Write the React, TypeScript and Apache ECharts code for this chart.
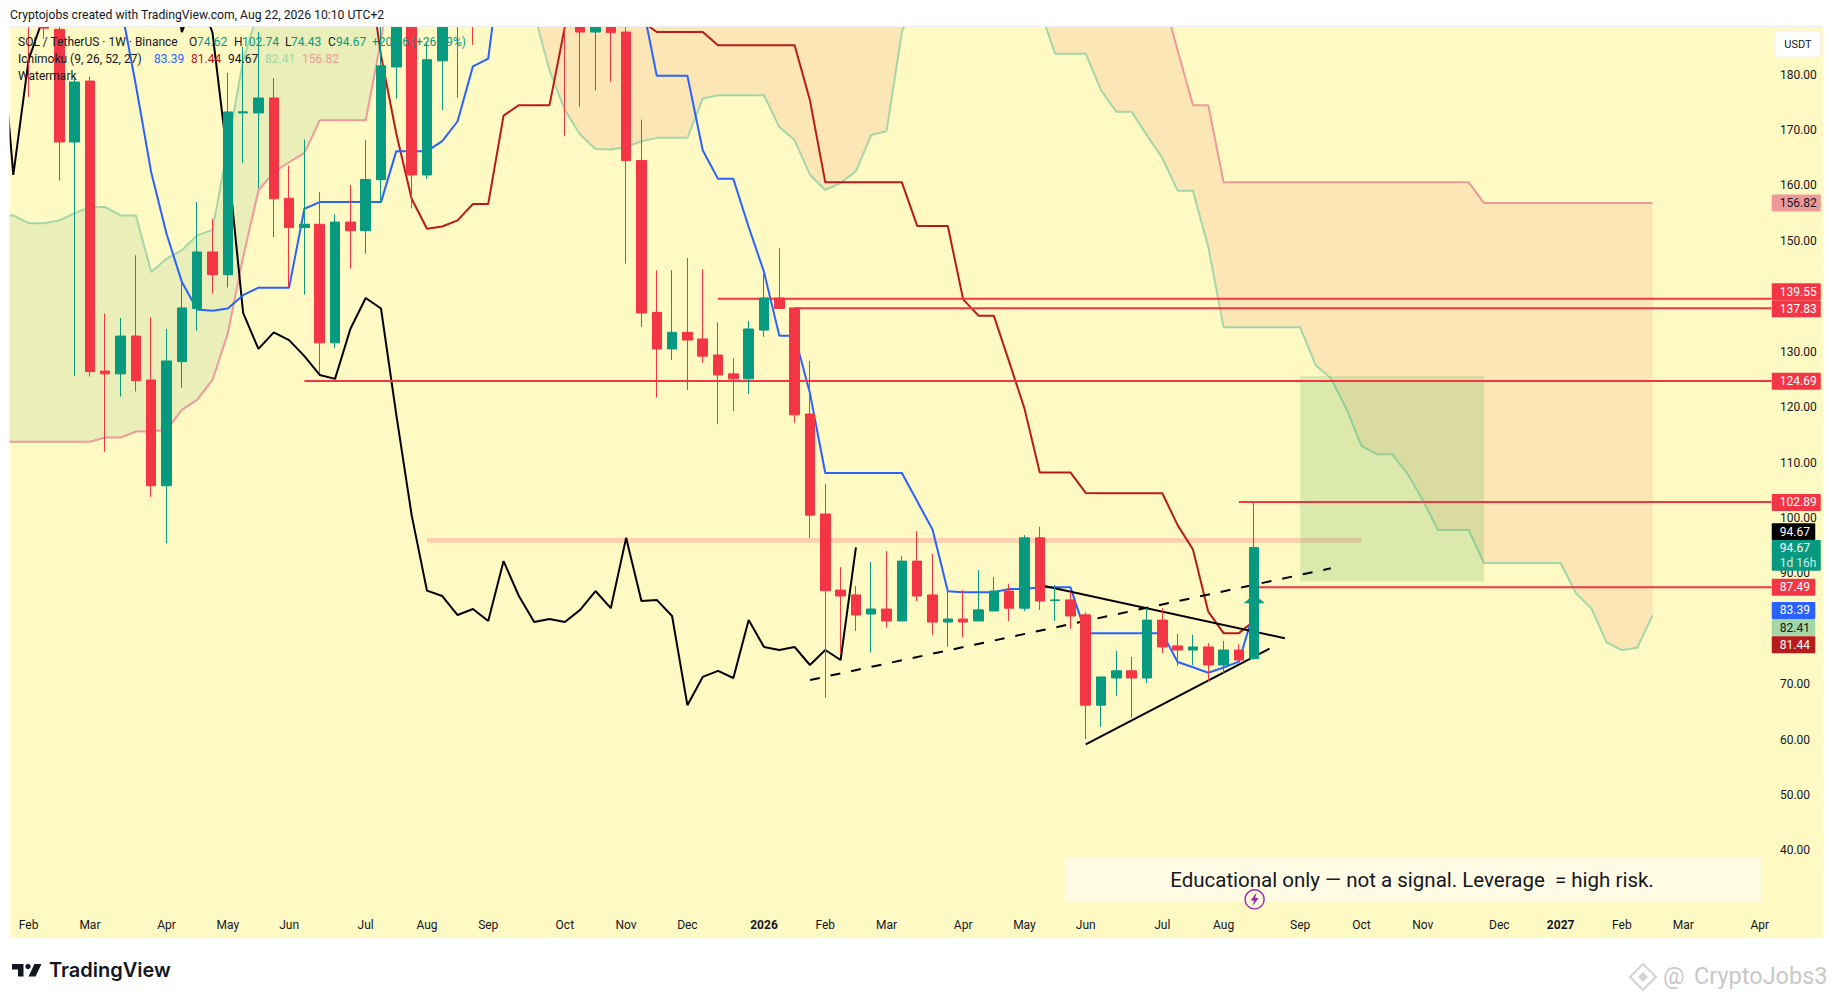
import React, { useEffect, useRef } from "react";
import * as echarts from "echarts";

const FONT = "Roboto, sans-serif";
const UP = "#089981";
const DOWN = "#F23645";

// category 0 is the week before the first candle; week index = category - 1
const categoryCount = 116;
const monthIndex = [1, 5, 10, 14, 18, 23, 27, 31, 36, 40, 44, 49, 53, 57, 62, 66, 70, 75, 79, 84, 88, 92, 97, 101, 105, 109, 114];
const monthLabels = ["Feb", "Mar", "Apr", "May", "Jun", "Jul", "Aug", "Sep", "Oct", "Nov", "Dec", "2026", "Feb", "Mar", "Apr", "May", "Jun", "Jul", "Aug", "Sep", "Oct", "Nov", "Dec", "2027", "Feb", "Mar", "Apr"];
const priceTicks = [40, 50, 60, 70, 90, 100, 110, 120, 130, 150, 160, 170, 180];

const opens = [205, 200, 192, 188.2, 167.85, 178.86, 126.5, 126, 132.83, 124.89, 105.8, 128.2, 137.8, 148, 143.9, 173.1, 173.1, 175.8, 157.7, 152.4, 153, 131.6, 153.4, 151.85, 161.05, 181.4, 194.7, 161.9, 182.5, 190.7, 195, 193, 198, 207, 215, 225, 218, 205, 187.7, 195, 187.7, 164.5, 137.1, 130.5, 133.5, 132.3, 129.4, 126, 125.1, 133.9, 139.7, 137.9, 118.75, 100.7, 86.98, 86.1, 82.65, 83.55, 81.4, 92.2, 86.1, 81.2, 81.75, 81.4, 83.2, 86.8, 83.7, 96.4, 85.1, 85.2, 82.5, 66.2, 71.1, 72.4, 71.1, 81.55, 76.9, 76.15, 76.7, 73.45, 76.15, 74.62];
const closes = [200, 192, 188.4, 167.85, 178.68, 126.4, 126, 132.83, 124.77, 105.8, 128.32, 137.9, 148, 143.9, 173.27, 173.3, 175.8, 157.6, 152.4, 153, 131.6, 153.4, 151.85, 161.1, 181.6, 194.7, 161.9, 182.7, 190.7, 195, 193, 198, 207, 215, 225, 218, 205, 187.7, 195, 187.6, 164.5, 137, 130.5, 133.5, 132.1, 129.2, 125.8, 125.1, 134.1, 139.7, 137.8, 118.6, 100.5, 86.87, 85.9, 82.47, 83.55, 81.4, 92.2, 85.9, 81.2, 81.75, 81.2, 83.4, 86.8, 83.7, 96.4, 85, 85.2, 82.3, 66.2, 71.3, 72.4, 71.1, 81.55, 76.7, 76.15, 76.7, 73.45, 76.15, 74.35, 94.67];
const lows = [192, 176, 186.5, 160.9, 125.6, 125.5, 111.95, 121.9, 122.8, 103.8, 95.4, 123.5, 133.8, 140.5, 141.6, 164.1, 159.5, 150.7, 141.7, 140.3, 126.1, 130.7, 145, 147.7, 156.8, 175.7, 155.9, 161.2, 173.6, 175.85, 185.4, 190, 195, 203, 210, 205, 168.9, 174.2, 177.2, 178.7, 145.9, 134.5, 121.7, 128.5, 123.1, 128, 116.9, 119.3, 122.4, 132.7, 137.8, 117.2, 96.4, 67.55, 75.55, 79.6, 75.7, 80.2, 81.4, 85, 78.9, 76.75, 78.4, 81.4, 83.2, 81.4, 83.2, 83.4, 81.4, 80, 60.1, 62.3, 67.85, 63.9, 70.2, 75.6, 73.3, 73.45, 70.5, 72, 74.35, 74.43];
const highs = [210, 205, 197, 190, 179.6, 179.6, 136.9, 136.1, 147.4, 136.2, 134.1, 142.9, 157, 154, 180.3, 185, 187.7, 179.4, 163.6, 168.3, 158.8, 154.8, 160.1, 168.15, 192, 200, 205, 186, 195, 199, 201, 203, 212, 222, 235, 230, 225, 208, 200, 199, 192, 171.9, 144.7, 144.7, 146.9, 144.9, 135.3, 128.8, 135.5, 144, 148.7, 137.9, 128.3, 106.1, 91.1, 87.7, 92.05, 94, 93.1, 97.6, 93.5, 86.7, 87, 90.6, 89.3, 88.1, 96.9, 98.4, 87.9, 86.7, 82.95, 71.3, 76, 74.9, 83.7, 83.7, 79.05, 78.9, 77.4, 77.8, 77.2, 102.74];

const lagging = [194.7, 161.9, 182.7, 190.7, 195, 193, 198, 207, 215, 225, 218, 205, 187.7, 195, 187.6, 164.5, 137, 130.5, 133.5, 132.1, 129.2, 125.8, 125.1, 134.1, 139.7, 137.8, 118.6, 100.5, 86.87, 85.9, 82.47, 83.55, 81.4, 92.2, 85.9, 81.2, 81.75, 81.2, 83.4, 86.8, 83.7, 96.4, 85, 85.2, 82.3, 66.2, 71.3, 72.4, 71.1, 81.55, 76.7, 76.15, 76.7, 73.45, 76.15, 74.35, 94.67];
const conversion = [null, null, null, null, null, null, null, null, 192.8, 178.1, 162.4, 151.3, 142.6, 137.6, 137.4, 137.8, 140.2, 141.56, 141.56, 141.56, 155.8, 157, 157, 157, 157, 157, 166.2, 166.2, 166.2, 168, 171.6, 181.5, 182.9, 204.5, null, null, null, null, null, null, null, null, 193.7, 179.8, 179.8, 179.8, 166.35, 161.2, 161.2, 152.5, 144.4, 132.9, 132.9, 122.5, 108.1, 108.1, 108.1, 108.1, 108.1, 108.1, 102.99, 97.9, 86.75, 86.6, 86.6, 86.6, 87.16, 87.16, 87.5, 87.5, 87.5, 79.2, 79.2, 79.2, 79.2, 79.2, 79.2, 74, 73.03, 72.06, 73, 74.05, 83.39];
const baseLine = [null, null, null, null, null, null, null, null, null, null, null, null, null, null, null, null, null, null, null, null, null, null, null, null, 203, 183.5, 169.35, 157.6, 152.2, 152.6, 153.7, 156.66, 156.66, 172.6, 174.5, 174.5, 174.5, 188.6, 200, null, null, 200, 189.7, 187.7, 187.7, 187.7, 187.7, 185.3, 185.3, 185.3, 185.3, 185.3, 185.3, 175.37, 160.57, 160.57, 160.57, 160.57, 160.57, 160.57, 152.7, 152.7, 152.7, 139.45, 136.5, 136.5, 128.2, 119.77, 108.2, 108.2, 108.2, 104.5, 104.45, 104.45, 104.45, 104.45, 104.45, 98.7, 94.3, 83.07, 79.2, 79.2, 81.44];
const spanA = [154.6, 154.6, 153.2, 153.2, 153.7, 155, 156.1, 156.1, 154.6, 154.6, 144.4, 146.8, 148.3, 151, 152, 167.07, 182.6, 191.6, 200, 210, 218, 225, 230, 235, 235, 235, 235, 230, 228, 225, 222, 220, 215, 205, 197, 191, 180.8, 173.6, 169.2, 166.6, 166.5, 166.95, 168, 168.6, 168.6, 168.6, 175.7, 176.3, 176.3, 176.3, 176.3, 170.56, 168.15, 161.95, 159.2, 160.45, 162.6, 169.1, 169.8, 187.7, 195, 205, 210, 215, 215, 215, 210, 200, 191.9, 183.8, 183.8, 183.8, 177.2, 173.3, 173.3, 169.05, 164.96, 159.07, 159.07, 148.9, 134.4, 134.4, 134.4, 134.4, 134.4, 134.4, 127.6, 125.2, 119.8, 113, 111.5, 111.5, 108, 103.2, 97.8, 97.8, 97.8, 91.86, 91.86, 91.86, 91.86, 91.86, 91.86, 86.4, 83.7, 77.54, 76.15, 76.57, 82.41];
const spanB = [
  113.75, 113.75, 113.75, 113.75, 113.75, 113.75, 113.75, 114.5, 114.5, 115.6,
  115.6, 115.9, 119.5, 121.3, 124.9, 133.3, 147.1, 159.1, 162.4, 164.2,
  165.9, 171.76, 171.76, 171.76, 171.76, 186.2, 205, 210, 215, 220,
  222, 225, 230, 235, 240, 250, 250, 250, 250, 250,
  250, 250, 250, 250, 250, 250, 250, 250, 250, 250,
  250, 250, 250, 250, 250, 250, 250, 250, 250, 250,
  250, 250, 250, 250, 250, 250, 250, 250, 250, 250,
  250, 250, 240, 230, 220, 205, 194.6, 184.4, 174.5, 174.5,
  160.57, 160.57, 160.57, 160.57, 160.57, 160.57, 160.57, 160.57, 160.57, 160.57,
  160.57, 160.57, 160.57, 160.57, 160.57, 160.57, 160.57, 156.82, 156.82, 156.82,
  156.82, 156.82, 156.82, 156.82, 156.82, 156.82, 156.82, 156.82, 156.82,
];

// horizontal levels: price and the category they start from
const levelPrices = [139.55, 137.83, 124.69, 102.89, 87.49];
const levelStarts = [47, 52, 20, 81, 82];

// trend lines: [category, price] pairs
const risingTrend = [[71, 59.1], [83, 76.4]];
const fallingTrend = [[68, 87.9], [84, 78.26]];
const dashedTrend = [[53, 70.74], [87, 90.9]];
const arrowPoint = [[82, 85.4]];

// zones: category from, category to, price top, price bottom
const targetZone = [85, 97, 125.6, 88.5];
const resistanceBand = [28, 89, 96.38, 95.52];

// price tags: real price, price at the tag's centre, text
const tagPrices = [156.82, 139.55, 137.83, 124.69, 102.89, 94.67, 94.67, 87.49, 83.39, 82.41, 81.44];
const tagCentres = [156.82, 140.83, 137.75, 124.65, 102.8, 97.5, 93.25, 87.47, 83.3, 80.2, 77.1];
const tagFills = ["#EF9A9A", DOWN, DOWN, DOWN, DOWN, "#000000", UP, DOWN, "#2962FF", "#A5D6A7", "#B71C1C"];
const tagColors = ["#131722", "#FFFFFF", "#FFFFFF", "#FFFFFF", "#FFFFFF", "#FFFFFF", "#FFFFFF", "#FFFFFF", "#FFFFFF", "#131722", "#FFFFFF"];
const tagWide = [1, 1, 1, 1, 1, 0, 1, 0, 0, 0, 0];

const legendRows = [
  { t: "SOL / TetherUS · 1W · Binance", x: 18, y: 42, c: "#131722" },
  { t: "O", x: 189, y: 42, c: "#131722" },
  { t: "74.62", x: 197, y: 42, c: UP },
  { t: "H", x: 234, y: 42, c: "#131722" },
  { t: "102.74", x: 242, y: 42, c: UP },
  { t: "L", x: 285, y: 42, c: "#131722" },
  { t: "74.43", x: 291, y: 42, c: UP },
  { t: "C", x: 328, y: 42, c: "#131722" },
  { t: "94.67", x: 336, y: 42, c: UP },
  { t: "+20.06 (+26.89%)", x: 372, y: 42, c: UP },
  { t: "Ichimoku (9, 26, 52, 27)", x: 18, y: 59, c: "#131722" },
  { t: "83.39", x: 154, y: 59, c: "#2962FF" },
  { t: "81.44", x: 191, y: 59, c: "#B71C1C" },
  { t: "94.67", x: 228, y: 59, c: "#131722" },
  { t: "82.41", x: 265, y: 59, c: "#A5D6A7" },
  { t: "156.82", x: 302, y: 59, c: "#EF9A9A" },
  { t: "Watermark", x: 18, y: 76, c: "#131722" },
];

function renderCloud(_: any, api: any) {
  const polys: any[] = [];
  let upper: number[][] = [];
  let lower: number[][] = [];
  let aboveNow = spanA[0] >= spanB[0];
  const flush = () => {
    polys.push({
      type: "polygon",
      shape: { points: [...upper, ...lower.slice().reverse()] },
      style: { fill: aboveNow ? "#EAEEB8" : "#FDE6B5" },
      silent: true,
    });
  };
  for (let i = 0; i < spanA.length; i++) {
    const above = spanA[i] >= spanB[i];
    if (i > 0 && above !== aboveNow) {
      const d0 = spanA[i - 1] - spanB[i - 1];
      const d1 = spanA[i] - spanB[i];
      const t = d0 / (d0 - d1);
      const p0 = api.coord([i - 1, spanA[i - 1]]);
      const p1 = api.coord([i, spanA[i]]);
      const c = [p0[0] + (p1[0] - p0[0]) * t, p0[1] + (p1[1] - p0[1]) * t];
      upper.push(c);
      lower.push(c);
      flush();
      upper = [c];
      lower = [c];
      aboveNow = above;
    }
    upper.push(api.coord([i, spanA[i]]));
    lower.push(api.coord([i, spanB[i]]));
  }
  flush();
  return { type: "group", children: polys };
}

function renderZone(_: any, api: any) {
  const a = api.coord([api.value(0), api.value(2)]);
  const b = api.coord([api.value(1), api.value(3)]);
  return {
    type: "rect",
    shape: { x: a[0], y: a[1], width: b[0] - a[0], height: b[1] - a[1] },
    style: { fill: api.visual("color") },
    silent: true,
  };
}

function renderLevel(params: any, api: any) {
  const p = api.coord([api.value(0), api.value(1)]);
  const endX = params.coordSys.x + params.coordSys.width + 4;
  return {
    type: "line",
    shape: { x1: p[0], y1: p[1], x2: endX, y2: p[1] },
    style: { stroke: DOWN, lineWidth: 2 },
    silent: true,
  };
}

function renderTag(params: any, api: any) {
  const i = params.dataIndex;
  const cy = api.coord([0, api.value(1)])[1];
  const left = params.coordSys.x + params.coordSys.width + 4.3;
  const width = tagWide[i] ? 49 : 43.5;
  const twoLine = i === 6;
  const height = twoLine ? 30.7 : 17;
  const children: any[] = [
    { type: "rect", shape: { x: left, y: cy - height / 2, width, height, r: 1 }, style: { fill: tagFills[i] } },
    {
      type: "text",
      style: {
        text: tagPrices[i].toFixed(2),
        x: left + 8,
        y: twoLine ? cy - 7.5 : cy,
        fill: tagColors[i],
        fontSize: 12,
        fontFamily: FONT,
        textVerticalAlign: "middle",
      },
    },
  ];
  if (twoLine) {
    children.push({
      type: "text",
      style: { text: "1d 16h", x: left + 8, y: cy + 7.5, fill: "#CDEBE5", fontSize: 12, fontFamily: FONT, textVerticalAlign: "middle" },
    });
  }
  return { type: "group", children };
}

function buildOption() {
  const candleRows = opens.map((o, i) => [o, closes[i], lows[i], highs[i]]);
  const catData = Array.from({ length: categoryCount }, (_, i) => String(i));
  const simpleLine = (name: string, data: any[], color: string, z: number, width = 2) => ({
    name,
    type: "line",
    data,
    showSymbol: false,
    symbol: "none",
    z,
    silent: true,
    lineStyle: { color, width },
    itemStyle: { color },
    connectNulls: false,
  });
  const graphic: any[] = [
    { type: "rect", z: -10, silent: true, shape: { x: 9.5, y: 27, width: 1813.5, height: 911 }, style: { fill: "#FFF9C4" } },
    { type: "rect", z: 15, silent: true, shape: { x: 0, y: 0, width: 9.5, height: 1000 }, style: { fill: "#FFFFFF" } },
    { type: "rect", z: 15, silent: true, shape: { x: 0, y: 0, width: 1835, height: 27 }, style: { fill: "#FFFFFF" } },
    { type: "line", z: 15, silent: true, shape: { x1: 9.5, y1: 26.5, x2: 1823, y2: 26.5 }, style: { stroke: "#EEEEEE", lineWidth: 1 } },
    { type: "rect", z: 16, silent: true, shape: { x: 1775, y: 31, width: 45.6, height: 26, r: 4 }, style: { fill: "#FFFFFF", stroke: "#EEEEEE", lineWidth: 1 } },
    { type: "text", z: 17, silent: true, style: { text: "USDT", x: 1798, y: 44.5, fill: "#131722", fontSize: 11, fontFamily: FONT, textAlign: "center", textVerticalAlign: "middle" } },
    { type: "text", z: 20, silent: true, style: { text: "Cryptojobs created with TradingView.com, Aug 22, 2026 10:10 UTC+2", x: 10, y: 15, fill: "#131722", fontSize: 12.2, fontFamily: FONT, textVerticalAlign: "middle" } },
    { type: "rect", z: 16, silent: true, shape: { x: 1065, y: 858, width: 696, height: 43.7 }, style: { fill: "#FFFBE4" } },
    { type: "text", z: 17, silent: true, style: { text: "Educational only — not a signal. Leverage  = high risk.", x: 1412, y: 880, fill: "#131722", fontSize: 20.5, fontFamily: FONT, textAlign: "center", textVerticalAlign: "middle" } },
    { type: "circle", z: 18, silent: true, shape: { cx: 1254.6, cy: 899.3, r: 9.5 }, style: { fill: "#FFF9DA", stroke: "#9C27B0", lineWidth: 1.4 } },
    { type: "polygon", z: 19, silent: true, shape: { points: [[1256.6, 892.5], [1250.6, 900.6], [1254, 900.6], [1252.6, 906], [1258.6, 898], [1255.2, 898]] }, style: { fill: "#9C27B0" } },
    { type: "polygon", z: 20, silent: true, shape: { points: [[12, 964], [23.5, 964], [23.5, 976.5], [18, 976.5], [18, 969.5], [12, 969.5]] }, style: { fill: "#131722" } },
    { type: "circle", z: 20, silent: true, shape: { cx: 28, cy: 966.5, r: 2.7 }, style: { fill: "#131722" } },
    { type: "polygon", z: 20, silent: true, shape: { points: [[34.5, 964], [41.5, 964], [35.5, 976.5], [28.5, 976.5]] }, style: { fill: "#131722" } },
    { type: "text", z: 20, silent: true, style: { text: "TradingView", x: 49, y: 970, fill: "#131722", fontSize: 20, fontWeight: 600, fontFamily: "Inter, sans-serif", textVerticalAlign: "middle" } },
    { type: "polygon", z: 20, silent: true, shape: { points: [[1643, 964], [1656, 977], [1643, 990], [1630, 977]] }, style: { fill: "none", stroke: "#D3D3D3", lineWidth: 2 } },
    { type: "polygon", z: 20, silent: true, shape: { points: [[1643, 972], [1648, 977], [1643, 982], [1638, 977]] }, style: { fill: "#D3D3D3" } },
    { type: "text", z: 20, silent: true, style: { text: "@", x: 1663, y: 976, fill: "#C8C8C8", fontSize: 24, fontFamily: FONT, textVerticalAlign: "middle" } },
    { type: "text", z: 20, silent: true, style: { text: "CryptoJobs3", x: 1694, y: 976, fill: "#C8C8C8", fontSize: 23.5, fontFamily: FONT, textVerticalAlign: "middle" } },
    ...legendRows.map((r) => ({
      type: "text",
      z: 20,
      silent: true,
      style: { text: r.t, x: r.x, y: r.y, fill: r.c, fontSize: 12, fontFamily: FONT, textVerticalAlign: "middle" },
    })),
  ];

  return {
    animation: false,
    backgroundColor: "#FFFFFF",
    textStyle: { fontFamily: FONT },
    grid: { left: -9.66, top: 27, width: 1777.12, height: 911, containLabel: false, show: false, outerBoundsMode: "none" },
    xAxis: {
      type: "category",
      data: catData,
      boundaryGap: true,
      axisLine: { show: false },
      axisTick: { show: false },
      splitLine: { show: false },
      axisLabel: {
        inside: true,
        margin: 7,
        interval: (i: number) => monthIndex.includes(i - 1),
        formatter: (_: string, i: number) => {
          const at = monthIndex.indexOf(i - 1);
          if (at < 0) return "";
          const s = monthLabels[at];
          return s.length === 4 ? `{b|${s}}` : s;
        },
        color: "#131722",
        fontSize: 12,
        fontFamily: FONT,
        rich: { b: { fontWeight: 700, fontSize: 12, color: "#131722", fontFamily: FONT } },
      },
    },
    yAxis: {
      type: "value",
      position: "right",
      min: 24.17,
      max: 188.61,
      axisLine: { show: false },
      axisTick: { show: false },
      splitLine: { show: false },
      axisLabel: {
        customValues: priceTicks,
        margin: 12.5,
        color: "#131722",
        fontSize: 12,
        fontFamily: FONT,
        formatter: (v: number) => v.toFixed(2),
      },
    },
    graphic,
    series: [
      { name: "Cloud", type: "custom", renderItem: renderCloud, data: [[0, 100]], encode: { x: 0, y: 1 }, clip: true, z: 1, silent: true },
      simpleLine("Leading Span A", spanA, "#A5D6A7", 2),
      simpleLine("Leading Span B", spanB, "#EF9A9A", 2),
      { name: "Target zone", type: "custom", renderItem: renderZone, data: [targetZone], encode: { x: [0, 1], y: [2, 3] }, itemStyle: { color: "rgba(76,175,80,0.2)" }, clip: true, z: 3, silent: true },
      { name: "Band", type: "custom", renderItem: renderZone, data: [resistanceBand], encode: { x: [0, 1], y: [2, 3] }, itemStyle: { color: "#FDCFAE" }, clip: true, z: 2, silent: true },
      simpleLine("Lagging Span", lagging, "#000000", 3),
      simpleLine("Base Line", baseLine, "#B71C1C", 3),
      simpleLine("Conversion Line", conversion, "#2962FF", 3),
      {
        name: "Levels",
        type: "custom",
        renderItem: renderLevel,
        data: levelPrices.map((p, i) => [levelStarts[i], p]),
        encode: { x: 0, y: 1 },
        clip: false,
        z: 4,
        silent: true,
      },
      {
        name: "Rising trend",
        type: "line",
        data: risingTrend,
        symbol: "none",
        z: 4,
        silent: true,
        lineStyle: { color: "#000000", width: 2 },
      },
      {
        name: "Falling trend",
        type: "line",
        data: fallingTrend,
        symbol: "none",
        z: 4,
        silent: true,
        lineStyle: { color: "#000000", width: 2 },
      },
      {
        name: "Dashed trend",
        type: "line",
        data: dashedTrend,
        symbol: "none",
        z: 4,
        silent: true,
        lineStyle: { color: "#000000", width: 2, type: [10, 11] },
      },
      {
        name: "SOL",
        type: "candlestick",
        data: [["-", "-", "-", "-"], ...candleRows],
        barWidth: 10,
        z: 5,
        silent: true,
        itemStyle: { color: UP, color0: DOWN, borderColor: UP, borderColor0: DOWN, borderWidth: 1 },
      },
      {
        name: "Arrow",
        type: "scatter",
        data: arrowPoint,
        symbol: "triangle",
        symbolSize: [21, 9],
        z: 6,
        silent: true,
        itemStyle: { color: UP, opacity: 1 },
      },
      {
        name: "Tags",
        type: "custom",
        renderItem: renderTag,
        data: tagPrices.map((_, i) => [0, tagCentres[i]]),
        encode: { x: 0, y: 1 },
        clip: false,
        z: 10,
        silent: true,
      },
    ],
  };
}

export default function App() {
  const ref = useRef<HTMLDivElement | null>(null);
  useEffect(() => {
    document.body.style.margin = "0";
    const chart = echarts.init(ref.current as HTMLDivElement, undefined, { renderer: "svg" });
    chart.setOption(buildOption() as any);
    return () => chart.dispose();
  }, []);
  return <div ref={ref} style={{ width: 1835, height: 1000 }} />;
}
